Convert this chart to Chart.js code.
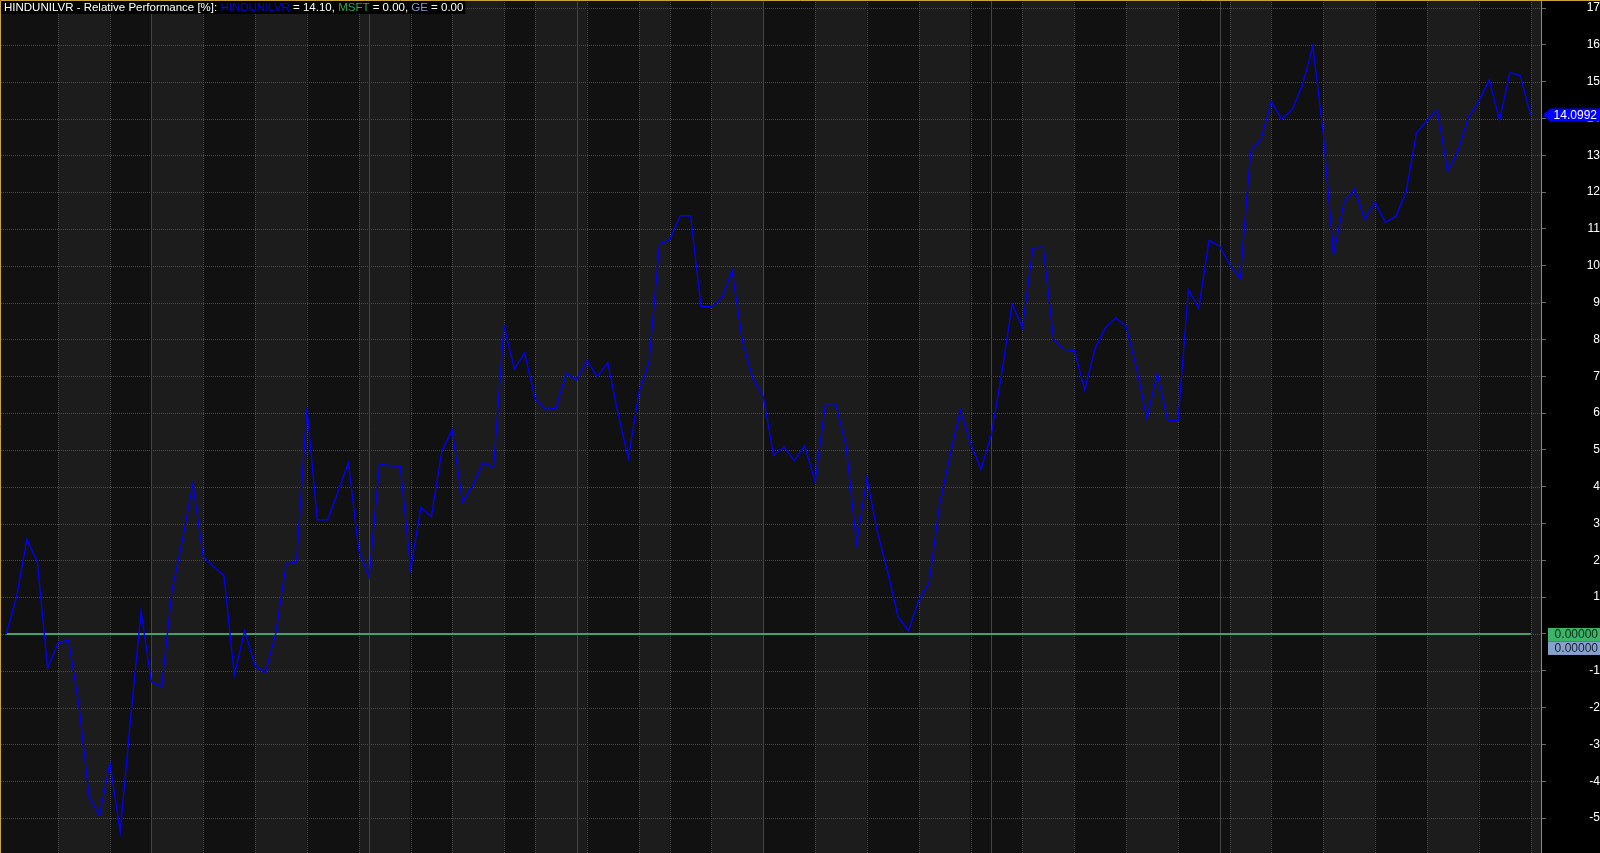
<!DOCTYPE html>
<html>
<head>
<meta charset="utf-8">
<title>HINDUNILVR - Relative Performance</title>
<script src="https://cdn.jsdelivr.net/npm/chart.js@4.4.1/dist/chart.umd.min.js"></script>
<style>
  html, body { margin: 0; padding: 0; background: #000; }
  #wrap { width: 1600px; height: 853px; position: relative; }
</style>
</head>
<body>
<div id="wrap"><canvas id="perfChart"></canvas></div>
<script>
// relative performance in %, one value per trading day
const hindValues = [
  0, 1.0, 2.57, 1.96, -0.93, -0.25, -0.16, -1.9, -4.42, -4.94,
  -3.51, -5.37, -2.3, 0.61, -1.30, -1.43, 1.20, 2.55, 4.07, 2.10,
  1.83, 1.58, -1.11, 0.09, -0.87, -1.05, 0.02, 1.90, 1.96, 6.13,
  3.10, 3.10, 3.87, 4.65, 2.28, 1.54, 4.60, 4.57, 4.56, 1.78,
  3.44, 3.19, 4.95, 5.54, 3.58, 4.05, 4.65, 4.52, 8.37, 7.20,
  7.63, 6.40, 6.09, 6.13, 7.08, 6.90, 7.42, 6.99, 7.37, 5.99,
  4.77, 6.54, 7.40, 10.59, 10.72, 11.36, 11.36, 8.89, 8.89, 9.12,
  9.87, 7.94, 6.95, 6.45, 4.86, 5.08, 4.71, 5.11, 4.14, 6.25,
  6.25, 5.09, 2.46, 4.23, 2.78, 1.69, 0.47, 0.08, 0.92, 1.38,
  3.50, 4.82, 6.07, 5.18, 4.47, 5.41, 7.08, 8.96, 8.32, 10.48,
  10.51, 7.99, 7.73, 7.70, 6.63, 7.76, 8.32, 8.58, 8.35, 7.22,
  5.86, 7.08, 5.81, 5.79, 9.35, 8.85, 10.69, 10.54, 10.02, 9.66,
  13.10, 13.44, 14.46, 13.98, 14.24, 14.91, 15.97, 13.6, 10.30, 11.72,
  12.08, 11.27, 11.72, 11.18, 11.34, 12.02, 13.62, 13.94, 14.24, 12.56,
  13.13, 14.04, 14.46, 15.05, 13.96, 15.25, 15.17, 14.0992
];
const msftValues = [
  0,0,0,0,0,0,0,0,0,0, 0,0,0,0,0,0,0,0,0,0, 0,0,0,0,0,0,0,0,0,0,
  0,0,0,0,0,0,0,0,0,0, 0,0,0,0,0,0,0,0,0,0, 0,0,0,0,0,0,0,0,0,0,
  0,0,0,0,0,0,0,0,0,0, 0,0,0,0,0,0,0,0,0,0, 0,0,0,0,0,0,0,0,0,0,
  0,0,0,0,0,0,0,0,0,0, 0,0,0,0,0,0,0,0,0,0, 0,0,0,0,0,0,0,0,0,0,
  0,0,0,0,0,0,0,0,0,0, 0,0,0,0,0,0,0,0,0,0, 0,0,0,0,0,0,0,0
];
const geValues = [
  0,0,0,0,0,0,0,0,0,0, 0,0,0,0,0,0,0,0,0,0, 0,0,0,0,0,0,0,0,0,0,
  0,0,0,0,0,0,0,0,0,0, 0,0,0,0,0,0,0,0,0,0, 0,0,0,0,0,0,0,0,0,0,
  0,0,0,0,0,0,0,0,0,0, 0,0,0,0,0,0,0,0,0,0, 0,0,0,0,0,0,0,0,0,0,
  0,0,0,0,0,0,0,0,0,0, 0,0,0,0,0,0,0,0,0,0, 0,0,0,0,0,0,0,0,0,0,
  0,0,0,0,0,0,0,0,0,0, 0,0,0,0,0,0,0,0,0,0, 0,0,0,0,0,0,0,0
];
// bar index of the first day of each week / month
const weekStarts = [5, 10, 14, 19, 24, 29, 34, 39, 43, 48, 51, 56, 61, 64, 68, 73,
  78, 83, 88, 93, 98, 103, 108, 113, 118, 122, 127, 132, 137, 142, 147];
const monthStarts = [14, 35, 55, 73, 95, 117];

const FONT = "Arial, 'Liberation Sans', sans-serif";
const pts = arr => arr.map((v, i) => ({x: i, y: v}));

const backdrop = {
  id: 'backdrop',
  beforeDraw(chart) {
    const {ctx, chartArea: a, scales: {x, y}} = chart;
    ctx.save();
    const edges = [x.min].concat(weekStarts, [x.max]);
    for (let k = 0; k < edges.length - 1; k++) {
      const x0 = x.getPixelForValue(edges[k]);
      const x1 = x.getPixelForValue(edges[k + 1]);
      ctx.fillStyle = k % 2 === 0 ? '#111111' : '#1c1c1c';
      ctx.fillRect(x0, a.top, x1 - x0, a.bottom - a.top);
    }
    ctx.lineWidth = 1;
    ctx.strokeStyle = '#4a4a4a';
    ctx.setLineDash([1, 1]);
    y.ticks.forEach(t => {
      const py = Math.round(y.getPixelForValue(t.value)) + 0.5;
      ctx.beginPath(); ctx.moveTo(a.left, py); ctx.lineTo(a.right, py); ctx.stroke();
    });
    weekStarts.forEach(i => {
      const px = Math.round(x.getPixelForValue(i)) + 0.5;
      ctx.beginPath(); ctx.moveTo(px, a.top); ctx.lineTo(px, a.bottom); ctx.stroke();
    });
    ctx.setLineDash([]);
    ctx.strokeStyle = '#444444';
    monthStarts.forEach(i => {
      const px = Math.round(x.getPixelForValue(i)) + 0.5;
      ctx.beginPath(); ctx.moveTo(px, a.top); ctx.lineTo(px, a.bottom); ctx.stroke();
    });
    ctx.restore();
  },
  afterDraw(chart) {
    const {ctx, scales: {y}} = chart;
    const W = chart.width;
    ctx.save();
    ctx.font = '12px ' + FONT;
    ctx.textBaseline = 'middle';

    // value tags on the right axis
    const last = hindValues[hindValues.length - 1];
    const yb = y.getPixelForValue(last);
    ctx.fillStyle = '#0000ff';
    ctx.beginPath();
    ctx.moveTo(1543, yb);
    ctx.lineTo(1550, yb - 6.5);
    ctx.lineTo(W, yb - 6.5);
    ctx.lineTo(W, yb + 6.5);
    ctx.lineTo(1550, yb + 6.5);
    ctx.closePath();
    ctx.fill();
    ctx.fillStyle = '#ffffff';
    ctx.textAlign = 'right';
    ctx.fillText(last.toFixed(4), 1597, yb + 0.5);

    const y0 = y.getPixelForValue(msftValues[msftValues.length - 1]);
    ctx.fillStyle = '#3cb46a';
    ctx.fillRect(1548, y0 - 6, W - 1548, 13.5);
    ctx.fillStyle = '#0c2a14';
    ctx.fillText(msftValues[msftValues.length - 1].toFixed(5), 1598, y0 + 1);
    ctx.fillStyle = '#86a2cc';
    ctx.fillRect(1548, y0 + 7.5, W - 1548, 13.5);
    ctx.fillStyle = '#141e30';
    ctx.fillText(geValues[geValues.length - 1].toFixed(5), 1598, y0 + 14.5);

    // title line
    const parts = [
      ['HINDUNILVR - Relative Performance [%]: ', '#ffffff'],
      ['HINDUNILVR', '#0000ff'],
      [' = ' + last.toFixed(2) + ', ', '#ffffff'],
      ['MSFT', '#2ea84e'],
      [' = ' + msftValues[msftValues.length - 1].toFixed(2) + ', ', '#ffffff'],
      ['GE', '#7b9acb'],
      [' = ' + geValues[geValues.length - 1].toFixed(2), '#ffffff']
    ];
    ctx.font = '11.5px ' + FONT;
    ctx.textAlign = 'left';
    ctx.textBaseline = 'alphabetic';
    let tw = 0;
    parts.forEach(p => { tw += ctx.measureText(p[0]).width; });
    ctx.fillStyle = '#000000';
    ctx.fillRect(0, 0, tw + 6, 14);
    let tx = 4;
    parts.forEach(p => {
      ctx.fillStyle = p[1];
      ctx.fillText(p[0], tx, 11);
      tx += ctx.measureText(p[0]).width;
    });

    // window frame
    ctx.strokeStyle = '#c8a43c';
    ctx.lineWidth = 1;
    ctx.beginPath();
    ctx.moveTo(0.5, chart.height);
    ctx.lineTo(0.5, 0.5);
    ctx.lineTo(W, 0.5);
    ctx.stroke();
    ctx.restore();
  }
};

new Chart(document.getElementById('perfChart'), {
  type: 'line',
  data: {
    datasets: [
      { label: 'HINDUNILVR', data: pts(hindValues), borderColor: '#0000ff', borderWidth: 1.4, pointRadius: 0, tension: 0 },
      { label: 'MSFT', data: pts(msftValues), borderColor: '#3caa5c', borderWidth: 1.5, pointRadius: 0 },
      { label: 'GE', data: pts(geValues), borderColor: '#86a2cc', borderWidth: 1.5, pointRadius: 0 }
    ]
  },
  options: {
    responsive: true,
    maintainAspectRatio: false,
    animation: false,
    layout: { padding: { left: 1, right: 0, top: 0, bottom: 0 } },
    plugins: { legend: { display: false }, tooltip: { enabled: false }, title: { display: false } },
    scales: {
      x: { type: 'linear', min: -0.5, max: 148, display: false },
      y: {
        position: 'right',
        min: -5.95,
        max: 17.22,
        afterFit(scale) {
          scale.width = 59;
          scale.paddingTop = 0;
          scale.paddingBottom = 0;
        },
        border: { display: true, color: '#8a8a8a', width: 1 },
        grid: { drawOnChartArea: false, drawTicks: true, tickLength: 5, color: '#6a6a6a' },
        ticks: {
          stepSize: 1,
          includeBounds: false,
          color: '#ffffff',
          font: { family: FONT, size: 12 },
          crossAlign: 'far',
          padding: 33
        }
      }
    }
  },
  plugins: [backdrop]
});
</script>
</body>
</html>
